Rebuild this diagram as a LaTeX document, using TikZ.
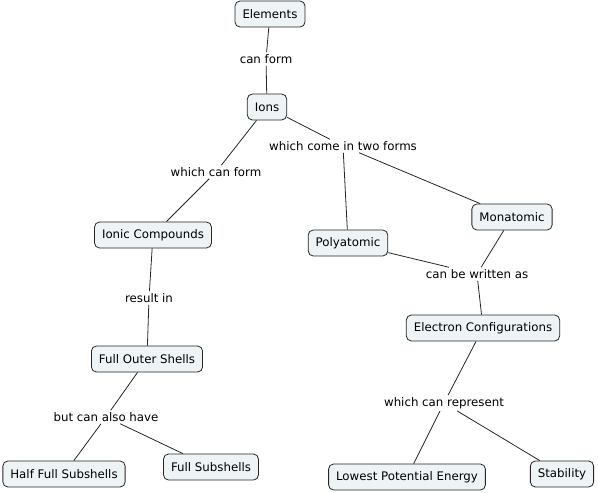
\documentclass[tikz,border=0pt]{standalone}
\usepackage{fontspec}
\setmainfont{DejaVu Sans}
\definecolor{conceptfill}{HTML}{EEF3F5}
\tikzset{
	conceptbox/.style={draw=black!85, fill=conceptfill, rounded corners=5pt, line width=0.8pt, minimum height=26pt, inner xsep=7.5pt, font=\fontsize{11.8}{14}\selectfont},
	linkphrase/.style={inner sep=2pt, font=\fontsize{11.8}{14}\selectfont},
	link/.style={line width=0.8pt, black!85}
}

\begin{document}
\begin{tikzpicture}[x=1pt, y=-1pt]
	\useasboundingbox (0,0) rectangle (598,493);
	% concepts
	\node[conceptbox] (elements) at (270,14) {Elements};
	\node[conceptbox] (ions) at (267,107) {Ions};
	\node[conceptbox] (ionic) at (153,235) {Ionic Compounds};
	\node[conceptbox] (poly) at (348,243) {Polyatomic};
	\node[conceptbox] (mono) at (512,217) {Monatomic};
	\node[conceptbox] (config) at (483,328) {Electron Configurations};
	\node[conceptbox] (outer) at (147,359) {Full Outer Shells};
	\node[conceptbox] (half) at (64,474) {Half Full Subshells};
	\node[conceptbox] (full) at (211,467) {Full Subshells};
	\node[conceptbox] (lowest) at (407,477) {Lowest Potential Energy};
	\node[conceptbox] (stab) at (562,474) {Stability};
	% linking phrases
	\node[linkphrase] (canform) at (266,59) {can form};
	\node[linkphrase] (whichform) at (216,172) {which can form};
	\node[linkphrase] (twoforms) at (343,146) {which come in two forms};
	\node[linkphrase] (written) at (477,274) {can be written as};
	\node[linkphrase] (result) at (149,298) {result in};
	\node[linkphrase] (represent) at (444,403) {which can represent};
	\node[linkphrase] (alsohave) at (106,417) {but can also have};
	% links
	\draw[link] (elements) -- (canform);
	\draw[link] (canform) -- (ions);
	\draw[link] (ions) -- (whichform);
	\draw[link] (whichform) -- (ionic);
	\draw[link] (ions) -- (twoforms);
	\draw[link] (twoforms) -- (poly);
	\draw[link] (twoforms) -- (mono);
	\draw[link] (poly) -- (written);
	\draw[link] (mono) -- (written);
	\draw[link] (written) -- (config);
	\draw[link] (ionic) -- (result);
	\draw[link] (result) -- (outer);
	\draw[link] (outer) -- (alsohave);
	\draw[link] (alsohave) -- (half);
	\draw[link] (alsohave) -- (full);
	\draw[link] (config) -- (represent);
	\draw[link] (represent) -- (lowest);
	\draw[link] (represent) -- (stab);
\end{tikzpicture}
\end{document}
